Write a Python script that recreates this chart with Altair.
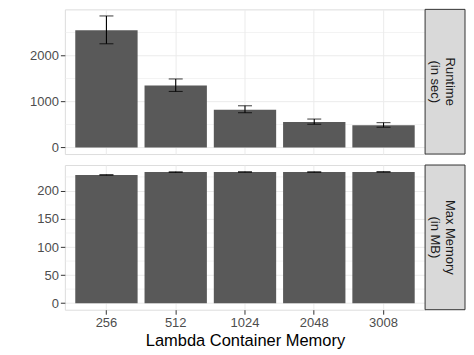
import altair as alt
import pandas as pd

# ---- data ----
memory = ["256", "512", "1024", "2048", "3008"]
runtime_mean = [2549, 1348, 821, 553, 484]
runtime_lo = [2255, 1218, 756, 505, 440]
runtime_hi = [2860, 1490, 907, 618, 540]
maxmem_mean = [228.6, 233.6, 233.8, 233.7, 234.0]
maxmem_lo = [228.1, 233.1, 233.3, 233.2, 233.5]
maxmem_hi = [229.1, 234.1, 234.3, 234.2, 234.5]

runtime_major = [0, 1000, 2000]
runtime_minor = [500, 1500, 2500]
maxmem_major = [0, 50, 100, 150, 200]
maxmem_minor = [25, 75, 125, 175, 225]

strip_labels = ["Runtime\n(in sec)", "Max Memory\n(in MB)"]
x_title = "Lambda Container Memory"

FONT = "Liberation Sans"
W, H = 361, 145
STRIP_W = 40
BAR = "#595959"
GRID = "#EBEBEB"
DARK = "#333333"


def panel(mean, lo, hi, major, minor, label, show_x):
    df = pd.DataFrame({"memory": memory, "mean": mean, "lo": lo, "hi": hi})
    top = max(hi)
    dom = [-0.05 * top, 1.05 * top]
    xscale = alt.Scale(domain=memory, paddingInner=0.1, paddingOuter=0.15)
    yscale = alt.Scale(domain=dom, nice=False, zero=False)
    if show_x:
        xaxis = alt.Axis(title=x_title, labelAngle=0, grid=True, gridColor=GRID,
                         bandPosition=0.5, domain=False, tickColor=DARK, tickSize=4.5,
                         labelColor="#4D4D4D", labelFontSize=13, labelPadding=2,
                         titleFontSize=16.5, titleFontWeight="normal", titleColor="black",
                         titlePadding=3, labelFont=FONT, titleFont=FONT)
    else:
        xaxis = alt.Axis(title=None, labels=False, ticks=False, domain=False, grid=True,
                         gridColor=GRID, bandPosition=0.5, minExtent=0, maxExtent=0)
    yaxis = alt.Axis(title=None, values=major, format="d", grid=True, gridColor=GRID,
                     domain=False, tickColor=DARK, tickSize=4.5, labelColor="#4D4D4D",
                     labelFontSize=13, labelPadding=2, labelFont=FONT,
                     minExtent=52, maxExtent=52)

    minor_df = pd.DataFrame({"v": minor})
    minor_rules = alt.Chart(minor_df).mark_rule(color=GRID, strokeWidth=0.6).encode(
        y=alt.Y("v:Q", scale=yscale, axis=yaxis)
    )
    base = alt.Chart(df)
    bars = base.mark_bar(color=BAR).encode(
        x=alt.X("memory:N", scale=xscale, axis=xaxis, sort=memory),
        y=alt.Y("mean:Q", scale=yscale, axis=yaxis),
        y2=alt.datum(0),
    )
    err = base.mark_rule(color="black", strokeWidth=1.1).encode(
        x=alt.X("memory:N", scale=xscale, sort=memory, axis=xaxis),
        y=alt.Y("lo:Q", scale=yscale, axis=yaxis),
        y2="hi:Q",
    )
    cap_lo = base.mark_tick(color="black", size=14, thickness=1.1).encode(
        x=alt.X("memory:N", scale=xscale, sort=memory, axis=xaxis),
        y=alt.Y("lo:Q", scale=yscale, axis=yaxis),
    )
    cap_hi = base.mark_tick(color="black", size=14, thickness=1.1).encode(
        x=alt.X("memory:N", scale=xscale, sort=memory, axis=xaxis),
        y=alt.Y("hi:Q", scale=yscale, axis=yaxis),
    )
    sdf = pd.DataFrame({"label": [label]})
    strip = alt.Chart(sdf).mark_rect(fill="#D9D9D9", stroke=DARK, strokeWidth=1,
                                     cornerRadius=0, strokeJoin="miter").encode(
        x=alt.value(W), x2=alt.value(W + STRIP_W), y=alt.value(0), y2=alt.value(H)
    )
    strip_text = alt.Chart(sdf).mark_text(
        angle=90, lineBreak="\n", fontSize=13, font=FONT, color="#1A1A1A",
        align="center", baseline="middle", lineHeight=15
    ).encode(x=alt.value(W + 25), y=alt.value(H / 2), text="label:N")
    return alt.layer(minor_rules, bars, err, cap_lo, cap_hi, strip, strip_text).properties(
        width=W, height=H
    )


top = panel(runtime_mean, runtime_lo, runtime_hi, runtime_major, runtime_minor,
            strip_labels[0], False)
bottom = panel(maxmem_mean, maxmem_lo, maxmem_hi, maxmem_major, maxmem_minor,
               strip_labels[1], True)

chart = alt.vconcat(top, bottom, spacing=9).properties(
    padding={"left": 4, "top": 0, "right": 0, "bottom": 0}
).configure_view(stroke=DARK, strokeWidth=1).configure(font=FONT, background="white")

chart.save("out.html", embed_options={"renderer": "svg", "actions": False})
